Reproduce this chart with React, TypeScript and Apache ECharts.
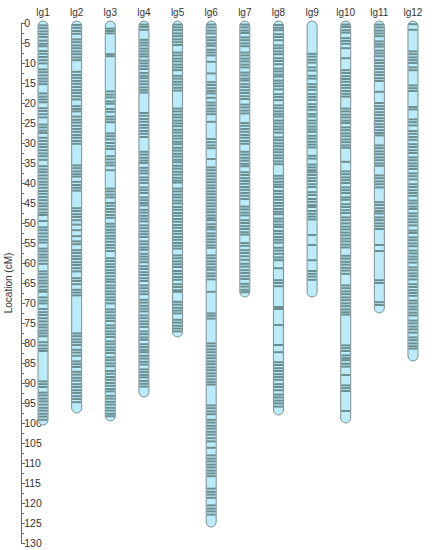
import React, { useEffect, useRef } from "react";
import * as echarts from "echarts";

const groupNames = ["lg1", "lg2", "lg3", "lg4", "lg5", "lg6", "lg7", "lg8", "lg9", "lg10", "lg11", "lg12"];
const groupLengths = [100, 97, 99, 93, 78, 125.5, 68, 97.5, 68, 99.5, 72, 84];
const yTicks = { min: 0, max: 130, interval: 5 };

const lg1 = [0.6,1.3,2.1,2.8,3.5,4.4,5.2,5.8,7.0,7.7,8.5,9.3,10.1,11.6,12.3,13.1,13.9,14.6,15.3,17.6,18.4,19.1,19.8,21.3,22.0,22.8,23.6,25.4,26.1,26.9,27.5,28.7,29.5,30.3,31.0,31.8,32.6,33.3,34.2,35.8,36.6,37.3,38.1,38.9,39.7,40.4,41.2,42.0,42.7,43.5,44.3,45.1,45.8,46.6,47.4,48.0,49.5,51.1,51.8,52.6,53.4,54.2,54.9,56.4,57.1,57.9,58.6,59.4,60.2,62.1,62.8,63.6,64.4,65.1,65.9,66.7,67.2,68.6,69.4,70.1,71.5,72.3,73.0,73.8,74.6,75.4,76.1,76.9,77.6,78.3,79.8,80.6,81.4,82.0,89.6,90.3,91.0,92.4,93.1,93.9,94.6,95.4,96.2,96.9,97.7,98.4,99.2];
const lg2 = [0.5,1.2,2.0,2.7,4.1,4.8,5.6,6.3,7.1,7.8,8.6,9.3,12.2,13.0,13.7,14.5,15.2,16.0,16.8,17.5,18.3,19.1,20.8,21.5,22.1,23.4,24.2,24.9,25.7,26.5,27.2,28.0,28.7,29.5,30.2,35.6,36.3,37.1,37.8,38.4,39.7,40.5,41.2,41.9,46.3,47.0,47.8,48.5,49.3,50.4,51.8,53.3,54.6,55.3,56.8,57.5,58.3,59.0,59.8,60.5,61.3,62.1,63.8,64.5,65.3,66.7,67.4,68.1,77.6,78.3,79.1,79.8,80.5,81.7,82.4,83.2,84.6,85.3,86.0,87.2,87.9,88.7,89.4,90.3,91.0,91.8,92.5,93.3,94.0,94.8];
const lg3 = [1.4,2.0,2.6,7.8,8.3,17.1,17.9,18.6,19.6,20.2,21.5,22.2,23.4,24.1,24.8,27.6,28.3,29.1,30.0,30.8,31.5,33.3,34.1,34.9,35.6,36.8,41.4,42.1,42.9,43.6,45.0,45.7,46.5,47.2,48.0,48.7,50.2,50.9,51.7,52.4,53.2,53.9,54.7,55.5,56.2,57.0,58.8,59.5,60.3,61.0,61.8,62.5,63.3,64.1,64.7,65.6,66.3,67.1,67.8,68.6,69.3,70.1,71.6,72.3,73.1,73.8,74.5,75.6,76.3,77.1,77.8,78.5,79.6,80.3,81.1,81.8,82.5,83.6,84.3,85.1,85.8,87.0,87.7,88.5,89.2,90.0,90.7,91.5,92.1,93.2,93.9,94.7,95.4,96.2,96.9,97.7,98.3];
const lg4 = [0.4,1.0,1.7,4.2,4.9,5.6,6.4,7.1,7.8,8.4,9.4,10.1,10.8,11.5,12.5,13.2,13.8,14.6,15.3,16.1,16.8,17.4,22.5,23.2,24.0,24.7,25.5,26.2,27.0,27.7,28.5,32.2,32.9,33.7,34.4,35.0,36.2,36.9,37.6,38.6,39.3,40.0,41.1,41.8,42.5,43.6,44.3,45.0,45.6,46.7,47.4,48.2,48.9,49.6,50.6,51.3,52.1,52.8,53.5,54.6,55.3,56.1,56.7,57.7,58.4,59.1,59.8,60.8,61.5,62.3,63.0,63.8,64.5,65.6,66.3,67.1,67.8,69.2,69.9,70.7,71.4,72.1,73.1,73.8,74.6,75.3,76.0,77.1,77.8,78.6,79.2,80.3,81.0,81.7,82.3,83.2,83.9,84.7,85.4,86.6,87.3,88.0,88.6,89.5,90.2,90.9];
const lg5 = [0.4,1.1,1.8,2.6,3.3,4.1,4.8,5.5,7.4,8.1,8.9,9.6,10.4,11.1,11.8,13.2,13.9,14.7,15.4,16.2,16.9,21.4,22.1,22.9,23.6,24.4,25.1,25.8,26.7,27.4,28.2,28.9,29.7,30.3,31.2,31.9,32.7,33.4,34.2,34.8,35.7,36.4,37.2,37.9,38.7,39.4,39.9,41.4,42.1,42.9,43.6,44.4,45.1,46.0,46.7,47.5,48.2,49.0,49.7,50.5,51.2,52.0,52.7,53.5,54.2,55.0,55.7,56.4,58.1,58.8,59.6,60.3,61.0,62.0,62.7,63.5,64.2,65.3,66.0,66.8,67.2,69.7,70.4,71.2,71.9,72.6,74.2,74.9,75.7,76.4,77.1];
const lg6 = [0.4,1.1,1.9,2.6,3.6,4.3,5.1,5.7,6.7,7.4,8.1,9.7,12.6,14.8,15.5,16.3,17.0,17.6,18.7,19.9,20.6,21.4,22.1,22.8,24.7,29.0,29.8,30.6,31.3,34.0,36.1,36.8,37.6,38.3,39.1,39.8,40.6,41.3,42.1,42.8,43.6,44.3,45.1,45.8,46.6,47.3,48.1,48.8,49.3,50.3,51.0,51.6,52.6,53.3,54.1,54.8,55.6,56.2,58.1,58.8,59.6,60.3,61.1,61.7,62.6,63.3,64.1,67.2,72.6,73.2,73.9,80.1,80.8,81.6,82.3,83.1,83.8,84.6,85.3,86.1,86.8,87.6,88.3,89.1,89.8,90.4,95.6,96.3,97.1,97.8,99.2,99.9,100.7,101.4,102.2,102.9,103.8,104.6,106.2,108.1,108.9,109.6,110.4,111.1,111.9,112.6,113.3,116.4,117.2,117.9,118.7,120.6,121.4,122.1,122.9];
const lg7 = [0.4,1.1,1.9,2.5,3.6,4.3,5.1,5.8,7.4,8.1,8.9,9.6,10.4,11.1,12.4,13.1,13.9,14.4,15.3,16.0,16.8,17.5,18.3,19.0,20.4,21.1,21.9,22.6,25.0,25.7,26.5,27.2,28.0,28.7,29.5,30.2,32.2,32.9,33.7,34.4,35.2,35.8,37.3,38.0,38.8,39.5,40.2,41.0,41.7,42.5,43.2,44.0,45.9,46.6,47.4,48.1,49.3,50.0,50.8,51.5,52.3,52.9,55.0,55.7,56.8,57.5,58.3,59.2,60.2,60.9,61.8,62.5,63.3,64.0,65.2,65.9,66.7,67.3];
const lg8 = [0.5,1.2,1.8,2.8,3.5,4.3,5.6,6.3,7.1,7.8,8.8,9.5,10.3,11.4,12.1,12.9,13.4,14.4,15.1,15.8,16.6,17.8,18.5,19.3,20.6,21.3,22.1,22.8,23.4,24.4,25.1,25.9,26.6,27.4,28.6,29.3,30.1,30.8,31.6,32.3,33.1,33.8,34.6,35.3,38.2,38.9,39.7,40.4,41.0,42.0,42.7,43.5,44.2,45.0,45.7,46.5,47.2,47.8,48.9,49.6,50.4,51.0,52.0,52.7,53.5,54.2,54.9,56.2,56.9,57.7,58.6,59.3,61.3,64.3,65.0,65.8,71.0,71.5,75.5,80.5,82.3,84.8,85.5,86.3,87.0,87.8,88.5,89.2,90.3,91.0,91.8,92.9,93.6,94.4,95.1,95.9];
const lg9 = [7.7,8.4,9.2,9.9,11.1,11.9,13.2,13.9,15.3,16.0,16.7,17.8,18.5,19.2,20.3,21.0,21.7,22.8,23.4,24.4,25.1,25.9,26.6,27.2,28.2,28.9,29.7,30.4,31.1,33.2,33.9,35.4,36.1,36.8,37.3,38.0,38.8,39.5,40.3,41.0,42.3,43.0,44.0,44.7,45.5,46.0,47.0,47.7,48.4,49.1,53.0,55.5,59.3,62.0,62.7,63.4,64.2];
const lg10 = [0.4,1.0,1.8,2.4,3.8,4.5,5.2,6.3,8.8,11.8,12.5,13.3,14.0,14.7,15.5,16.2,17.0,17.7,18.4,21.4,22.1,22.9,23.6,24.4,25.0,26.1,26.8,27.6,28.3,29.1,29.8,30.6,31.2,34.7,37.1,37.8,38.6,39.3,40.0,41.1,41.8,42.5,43.6,44.2,45.3,46.0,46.8,47.5,48.6,49.3,50.1,50.9,51.6,52.4,53.1,53.9,54.6,55.4,56.1,58.2,58.9,59.7,60.4,61.2,61.9,62.7,65.6,66.3,67.1,67.8,68.6,69.3,70.1,70.8,71.6,72.3,72.9,80.6,81.3,82.0,83.1,83.8,84.3,85.2,85.9,88.0,90.6,91.3,92.0,97.0];
const lg11 = [0.4,1.1,1.9,2.6,3.3,4.6,5.3,5.9,6.9,7.6,8.3,9.3,10.0,10.8,11.5,12.3,13.0,13.8,14.5,17.2,20.0,20.8,21.5,22.3,23.0,23.8,24.5,25.3,26.0,26.8,27.5,28.1,30.6,31.3,32.1,32.8,33.6,34.3,35.1,35.7,38.1,38.8,39.6,40.3,41.1,44.8,45.5,46.3,47.0,47.6,48.6,49.3,50.1,50.8,51.5,55.5,57.0,64.3,65.0,69.8,70.5];
const lg12 = [0.3,1.7,7.1,7.8,8.6,9.3,10.0,11.1,11.8,15.6,16.3,17.0,21.0,21.6,24.1,24.8,25.6,27.0,27.7,28.5,29.2,30.3,31.0,31.8,32.5,33.6,34.3,35.1,35.8,36.5,37.6,38.3,39.1,40.3,41.0,41.8,42.5,43.2,44.4,45.1,45.9,46.5,47.6,48.3,49.1,49.8,50.6,51.9,52.5,53.6,54.3,55.1,55.8,56.9,57.6,58.4,59.1,59.9,61.1,61.8,62.6,63.3,64.1,65.3,66.0,66.8,67.5,68.2,69.4,70.1,70.9,71.6,72.4,73.1,74.4,75.1,75.9,76.6,77.4,78.6,79.3,80.1,80.8,81.4];

const markerSets = [lg1, lg2, lg3, lg4, lg5, lg6, lg7, lg8, lg9, lg10, lg11, lg12];

export default function App() {
  const ref = useRef<HTMLDivElement>(null);
  useEffect(() => {
    if (!ref.current) return;
    const chart = echarts.init(ref.current, null, { renderer: "svg" });
    const halfW = 5;
    const bodyData = groupLengths.map((len, i) => [i, len]);
    const markerData: number[][] = [];
    markerSets.forEach((arr, i) => arr.forEach((p) => markerData.push([i, p])));

    const bodyRect = (params: any, api: any) => {
      const i = api.value(0);
      const len = api.value(1);
      const top = api.coord([i, 0]);
      const bot = api.coord([i, len]);
      return {
        x: top[0] - halfW,
        y: top[1] - 2,
        width: halfW * 2,
        height: bot[1] - top[1] + 4,
        r: halfW,
      };
    };

    chart.setOption({
      animation: false,
      grid: { left: 26.2, right: 4.2, top: 23, bottom: 7, containLabel: false, outerBoundsMode: "none" },
      xAxis: {
        type: "category",
        data: groupNames,
        position: "top",
        axisLine: { show: false },
        axisTick: { show: false },
        splitLine: { show: false },
        axisLabel: { margin: 6, fontSize: 10, color: "#333", fontFamily: "Liberation Sans" },
      },
      yAxis: {
        type: "value",
        inverse: true,
        min: yTicks.min,
        max: yTicks.max,
        interval: yTicks.interval,
        offset: 5,
        name: "Location (cM)",
        nameLocation: "middle",
        nameRotate: 90,
        nameGap: 8,
        nameTextStyle: { fontSize: 10, color: "#333", fontFamily: "Liberation Sans" },
        axisLine: { show: true, lineStyle: { color: "#666", width: 1 } },
        axisTick: { show: true, inside: true, length: 4, lineStyle: { color: "#666" } },
        minorTick: { show: true, splitNumber: 2, length: 3, lineStyle: { color: "#666" } },
        splitLine: { show: false },
        axisLabel: { inside: true, margin: 3, fontSize: 10.5, color: "#333", fontFamily: "Liberation Sans" },
      },
      series: [
        {
          type: "custom",
          data: bodyData,
          silent: true,
          renderItem: (params: any, api: any) => ({
            type: "rect",
            shape: bodyRect(params, api),
            style: { fill: "#bcecf9", stroke: "none" },
          }),
          z: 1,
        },
        {
          type: "custom",
          data: markerData,
          silent: true,
          renderItem: (params: any, api: any) => {
            const c = api.coord([api.value(0), api.value(1)]);
            return {
              type: "line",
              shape: { x1: c[0] - halfW + 0.5, y1: c[1], x2: c[0] + halfW - 0.5, y2: c[1] },
              style: { stroke: "#6a8f92", lineWidth: 2 },
            };
          },
          z: 2,
        },
        {
          type: "custom",
          data: bodyData,
          silent: true,
          renderItem: (params: any, api: any) => ({
            type: "rect",
            shape: bodyRect(params, api),
            style: { fill: "none", stroke: "#7f8f91", lineWidth: 1 },
          }),
          z: 3,
        },
      ],
    });
    return () => chart.dispose();
  }, []);
  return <div ref={ref} style={{ position: "absolute", left: 0, top: 0, width: 434, height: 550 }} />;
}
